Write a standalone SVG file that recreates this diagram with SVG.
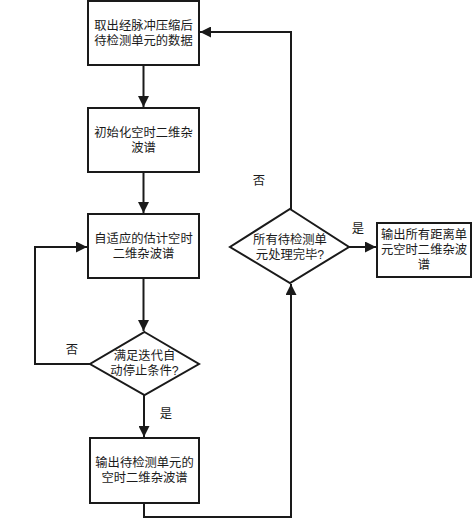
<svg xmlns="http://www.w3.org/2000/svg" width="474" height="520" viewBox="0 0 474 520">
<defs>
<style>
.box{fill:#fff;stroke:#1a1a1a;stroke-width:2}
.t{font-family:"Liberation Sans","Noto Sans CJK SC",sans-serif;font-size:12.3px;fill:#1a1a1a;text-anchor:middle;dominant-baseline:central}
.c{fill:none;stroke:#1a1a1a;stroke-width:2}
</style>
<marker id="ah" viewBox="0 0 10 10" refX="10" refY="5" markerWidth="5.5" markerHeight="5.5" orient="auto" markerUnits="strokeWidth">
<path d="M0,0 L10,5 L0,10 Z" fill="#1a1a1a"/>
</marker>
</defs>
<rect width="474" height="520" fill="#fff"/>
<g id="connectors">
<path class="c" d="M143.5,65 V107" marker-end="url(#ah)"/>
<path class="c" d="M143.5,172 V213" marker-end="url(#ah)"/>
<path class="c" d="M143.5,278 V331" marker-end="url(#ah)"/>
<path class="c" d="M90,364 H35 V247 H87" marker-end="url(#ah)"/>
<path class="c" d="M144,395 V437" marker-end="url(#ah)"/>
<path class="c" d="M144,503 V517 H291 V284" marker-end="url(#ah)"/>
<path class="c" d="M291,209 V32 H200" marker-end="url(#ah)"/>
<path class="c" d="M349,247 H376" marker-end="url(#ah)"/>
<text class="t" x="72" y="350">否</text>
<text class="t" x="166" y="414">是</text>
<text class="t" x="259" y="181">否</text>
<text class="t" x="358" y="229">是</text>
</g>
<g id="n1"><rect class="box" x="88" y="1" width="111" height="64"/>
<text class="t" x="143.5" y="26">取出经脉冲压缩后</text><text class="t" x="143.5" y="41">待检测单元的数据</text></g>
<g id="n2"><rect class="box" x="88" y="108" width="111" height="64"/>
<text class="t" x="143.5" y="133">初始化空时二维杂</text><text class="t" x="143.5" y="148">波谱</text></g>
<g id="n3"><rect class="box" x="88" y="214" width="111" height="64"/>
<text class="t" x="143.5" y="239">自适应的估计空时</text><text class="t" x="143.5" y="254">二维杂波谱</text></g>
<g id="n4"><polygon class="box" points="144.5,332 199,364 144.5,395 90,364"/>
<text class="t" x="144.5" y="356">满足迭代自</text><text class="t" x="144.5" y="371">动停止条件?</text></g>
<g id="n5"><rect class="box" x="90" y="438" width="109" height="65"/>
<text class="t" x="144.5" y="463">输出待检测单元的</text><text class="t" x="144.5" y="478">空时二维杂波谱</text></g>
<g id="n6"><polygon class="box" points="290,209 349,247 290,283 230,247"/>
<text class="t" x="290" y="239.5">所有待检测单</text><text class="t" x="290" y="254.5">元处理完毕?</text></g>
<g id="n7"><rect class="box" x="377" y="223" width="94" height="54"/>
<text class="t" x="424" y="235">输出所有距离单</text><text class="t" x="424" y="250">元空时二维杂波</text><text class="t" x="424" y="265">谱</text></g>
</svg>
